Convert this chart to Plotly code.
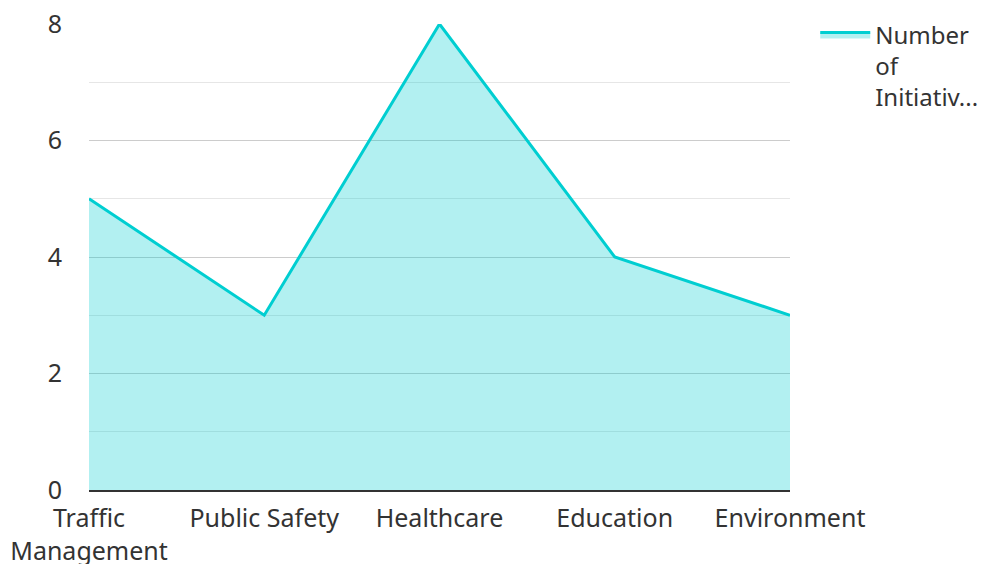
import plotly.graph_objects as go

categories = ["Traffic<br>Management", "Public Safety", "Healthcare", "Education", "Environment"]
values = [5, 3, 8, 4, 3]
series_name = "Number<br>of<br>Initiativ..."

fig = go.Figure()
fig.add_trace(go.Scatter(
    x=categories, y=values, mode="lines", name=series_name,
    line=dict(color="#00CED1", width=3),
    fill="tozeroy", fillcolor="rgba(0,206,209,0.3)",
    showlegend=True,
))

fig.update_layout(
    width=982, height=564,
    margin=dict(l=89, r=192, t=24, b=74, autoexpand=False),
    paper_bgcolor="white", plot_bgcolor="white",
    font=dict(family="Noto Sans", size=25, color="#333"),
    legend=dict(x=1.036, y=1.025, xanchor="left", yanchor="top", valign="top",
                itemwidth=50,
                font=dict(size=24, color="#333"), tracegroupgap=0),
    xaxis=dict(type="category", range=[0, 4], showgrid=False, automargin=False,
               showline=True, linecolor="#333", linewidth=2,
               ticks="", ticklabelstandoff=5, tickfont=dict(size=25, color="#333")),
    yaxis=dict(range=[0, 8], dtick=2, showgrid=True, gridcolor="#cccccc", gridwidth=1,
               automargin=False,
               zeroline=False, showline=False, ticks="outside", ticklen=21,
               tickcolor="rgba(0,0,0,0)", tickfont=dict(size=25, color="#333"),
               minor=dict(dtick=1, showgrid=True, gridcolor="#e6e6e6", gridwidth=1)),
)

fig.write_html("out.html")
